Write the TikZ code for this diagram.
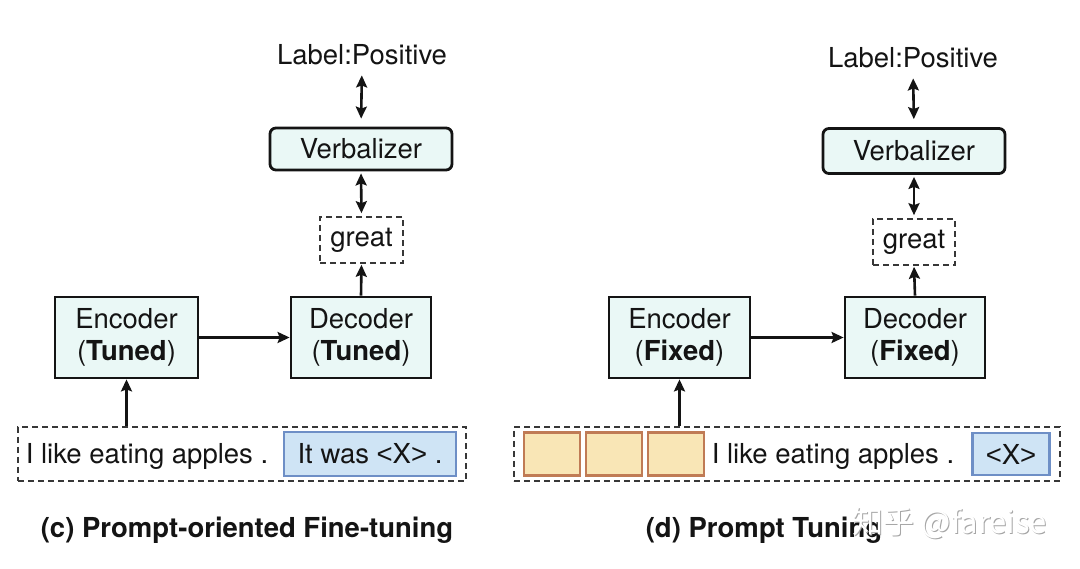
\documentclass[tikz,border=0pt]{standalone}
\usepackage{fontspec}
\setmainfont{TeX Gyre Heros}
\newfontfamily\libfont{Liberation Sans}
\newfontfamily\cjkfont{Noto Sans CJK SC}
\usetikzlibrary{arrows.meta}
\definecolor{boxfill}{RGB}{234,248,246}
\definecolor{xfill}{RGB}{207,228,245}
\definecolor{xdraw}{RGB}{110,143,198}
\definecolor{pfill}{RGB}{249,230,182}
\definecolor{pdraw}{RGB}{192,123,85}
\definecolor{txt}{RGB}{20,20,20}
\newcommand{\ltx}{{\libfont <}}
\newcommand{\gtx}{{\libfont >}}
\begin{document}
\begin{tikzpicture}[x=1pt,y=-1pt,
  every node/.style={font=\fontsize{27.5}{32}\selectfont, text=txt, inner sep=0pt},
  solidbox/.style={draw=txt, line width=2.8pt, fill=boxfill, align=center},
  roundbox/.style={solidbox, rounded corners=6pt},
  dashbox/.style={draw=txt!85, line width=1.6pt, dash pattern=on 6pt off 4pt},
  xbox/.style={draw=xdraw, line width=2.4pt, fill=xfill},
  pbox/.style={draw=pdraw, line width=2.8pt, fill=pfill, minimum width=56pt, minimum height=43pt},
  arr/.style={line width=2.6pt, draw=txt, -{Stealth[length=12pt,width=11pt,inset=2pt]}},
  darr/.style={line width=2.6pt, draw=txt, {Stealth[length=12pt,width=11pt,inset=2pt]}-{Stealth[length=12pt,width=11pt,inset=2pt]}},
  captext/.style={font=\fontsize{27.5}{32}\selectfont\bfseries}
]
\useasboundingbox (0,0) rectangle (1080,569);
\fill[white] (0,0) rectangle (1080,569);

% ---------- left panel ----------
\node (lab1) at (362,55) {Label:Positive};
\node[roundbox, minimum width=182pt, minimum height=42pt] (verb1) at (361,149) {Verbalizer};
\node[dashbox, minimum width=83pt, minimum height=46pt] (great1) at (361.5,240) {great};
\node[solidbox, minimum width=143pt, minimum height=81pt] (enc1) at (126.5,337.5) {Encoder\\(\textbf{Tuned})};
\node[solidbox, minimum width=140pt, minimum height=81pt] (dec1) at (361,337.5) {Decoder\\(\textbf{Tuned})};
\node[dashbox, minimum width=448pt, minimum height=54pt] (in1) at (242,454) {};
\node (s1) at (147,456) {I like eating apples .};
\node[xbox, minimum width=172pt, minimum height=44pt] (it1) at (370,454) {It was \ltx X\gtx{} .};
\node[captext] (cap1) at (247,530) {(c) Prompt-oriented Fine-tuning};

\draw[darr, shorten <=10pt, shorten >=8pt] (lab1.south) -- (verb1.north);
\draw[darr, shorten <=2pt, shorten >=3pt] (verb1.south) -- (great1.north);
\draw[arr, shorten >=1pt] (dec1.north) -- (great1.south);
\draw[arr] (enc1.east) -- (dec1.west);
\draw[arr] (enc1.south |- in1.north) -- (enc1.south);

% ---------- right panel ----------
\node (lab2) at (913,58) {Label:Positive};
\node[roundbox, minimum width=182pt, minimum height=45pt] (verb2) at (914,151) {Verbalizer};
\node[dashbox, minimum width=82pt, minimum height=46pt] (great2) at (914,242) {great};
\node[solidbox, minimum width=141pt, minimum height=81pt] (enc2) at (679.5,337.5) {Encoder\\(\textbf{Fixed})};
\node[solidbox, minimum width=140pt, minimum height=81pt] (dec2) at (915,337.5) {Decoder\\(\textbf{Fixed})};
\node[dashbox, minimum width=546pt, minimum height=54pt] (in2) at (787,454) {};
\node[pbox] (p1) at (552,454) {};
\node[pbox] (p2) at (614,454) {};
\node[pbox] (p3) at (676,454) {};
\node (s2) at (833,456) {I like eating apples .};
\node[xbox, minimum width=77pt, minimum height=42pt] (x2) at (1011,454) {\ltx X\gtx};
\node[captext] (cap2) at (764,530) {(d) Prompt Tuning};

\draw[darr, shorten <=10pt, shorten >=8pt] (lab2.south) -- (verb2.north);
\draw[darr, shorten <=2pt, shorten >=3pt] (verb2.south) -- (great2.north);
\draw[arr, shorten >=1pt] (dec2.north) -- (great2.south);
\draw[arr] (enc2.east) -- (dec2.west);
\draw[arr] (enc2.south |- in2.north) -- (enc2.south);

% ---------- watermark ----------
\node[font=\fontsize{31}{34}\selectfont\cjkfont, text=black!35] (wms) at (951,524) {知乎\ @fareise};
\node[font=\fontsize{31}{34}\selectfont\cjkfont, text=white] (wm) at (950,523) {知乎\ @fareise};
\end{tikzpicture}
\end{document}
